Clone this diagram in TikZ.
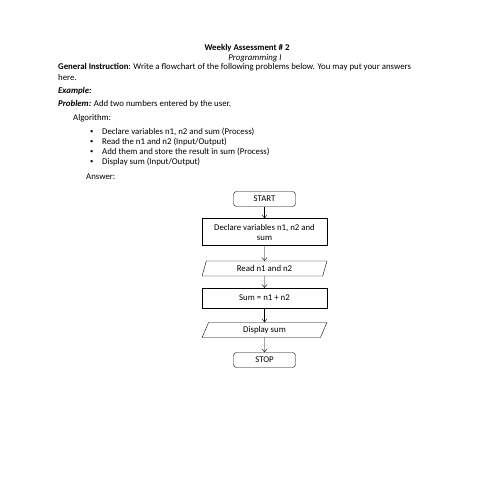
\documentclass[tikz,border=0pt]{standalone}
\usepackage{fontspec}
\setmainfont{Carlito}
\usetikzlibrary{positioning,shapes.geometric,arrows.meta}

\begin{document}
\begin{tikzpicture}[x=1pt, y=-1pt, >={Straight Barb[length=3pt,width=5pt]},
  every node/.style={font=\fontsize{8.8}{10}\selectfont, inner sep=0pt},
  line/.style={anchor=west},
  terminal/.style={draw, rounded corners=3pt, minimum width=62pt, minimum height=15pt},
  process/.style={draw, minimum width=125pt, align=center},
  io/.style={draw, trapezium, trapezium left angle=72, trapezium right angle=108,
    trapezium stretches=true, minimum width=125pt, minimum height=15pt}]

\useasboundingbox (0,0) rectangle (495,495);

% heading
\node (title) at (247,48) {\bfseries Weekly Assessment \# 2};
\node (subtitle) at (255,58.5) {\itshape Programming I};

% instructions
\node [line] (instr) at (58,67.5) {\textbf{General Instruction}: Write a flowchart of the following problems below. You may put your answers};
\node [line] (instr-2) at (58,77.5) {here.};
\node [line] (example) at (58,91) {\textbf{\textit{Example:}}};
\node [line] (problem) at (58,104) {\textbf{\textit{Problem:}} Add two numbers entered by the user.};
\node [line] (algo) at (73,118) {Algorithm:};

% steps
\foreach \t [count=\i] in {{Declare variables n1, n2 and sum (Process)},
  {Read the n1 and n2 (Input/Output)},
  {Add them and store the result in sum (Process)},
  {Display sum (Input/Output)}}
{
  \node [line, font=\fontsize{6.5}{7}\selectfont] (dot-\i) at (90,122+10*\i) {\textbullet};
  \node [line] (step-\i) at (102,122+10*\i) {\t};
}

\node [line] (answer) at (86,177) {Answer:};

% flowchart
\node [terminal] (start) at (264.5,199) {START};
\node [process, minimum height=27pt] (declare) at (264.5,232) {Declare variables n1, n2 and\\sum};
\node [io] (read) at (264.5,268.5) {Read n1 and n2};
\node [process, minimum height=20pt] (sum) at (264.5,298) {Sum = n1 + n2};
\node [io] (display) at (264.5,330) {Display sum};
\node [terminal] (stop) at (264.5,360) {STOP};

% Connections
\foreach \a/\b in {start/declare, declare/read, read/sum, sum/display, display/stop}
  \draw [->] (\a) -- (\b);

\end{tikzpicture}
\end{document}
